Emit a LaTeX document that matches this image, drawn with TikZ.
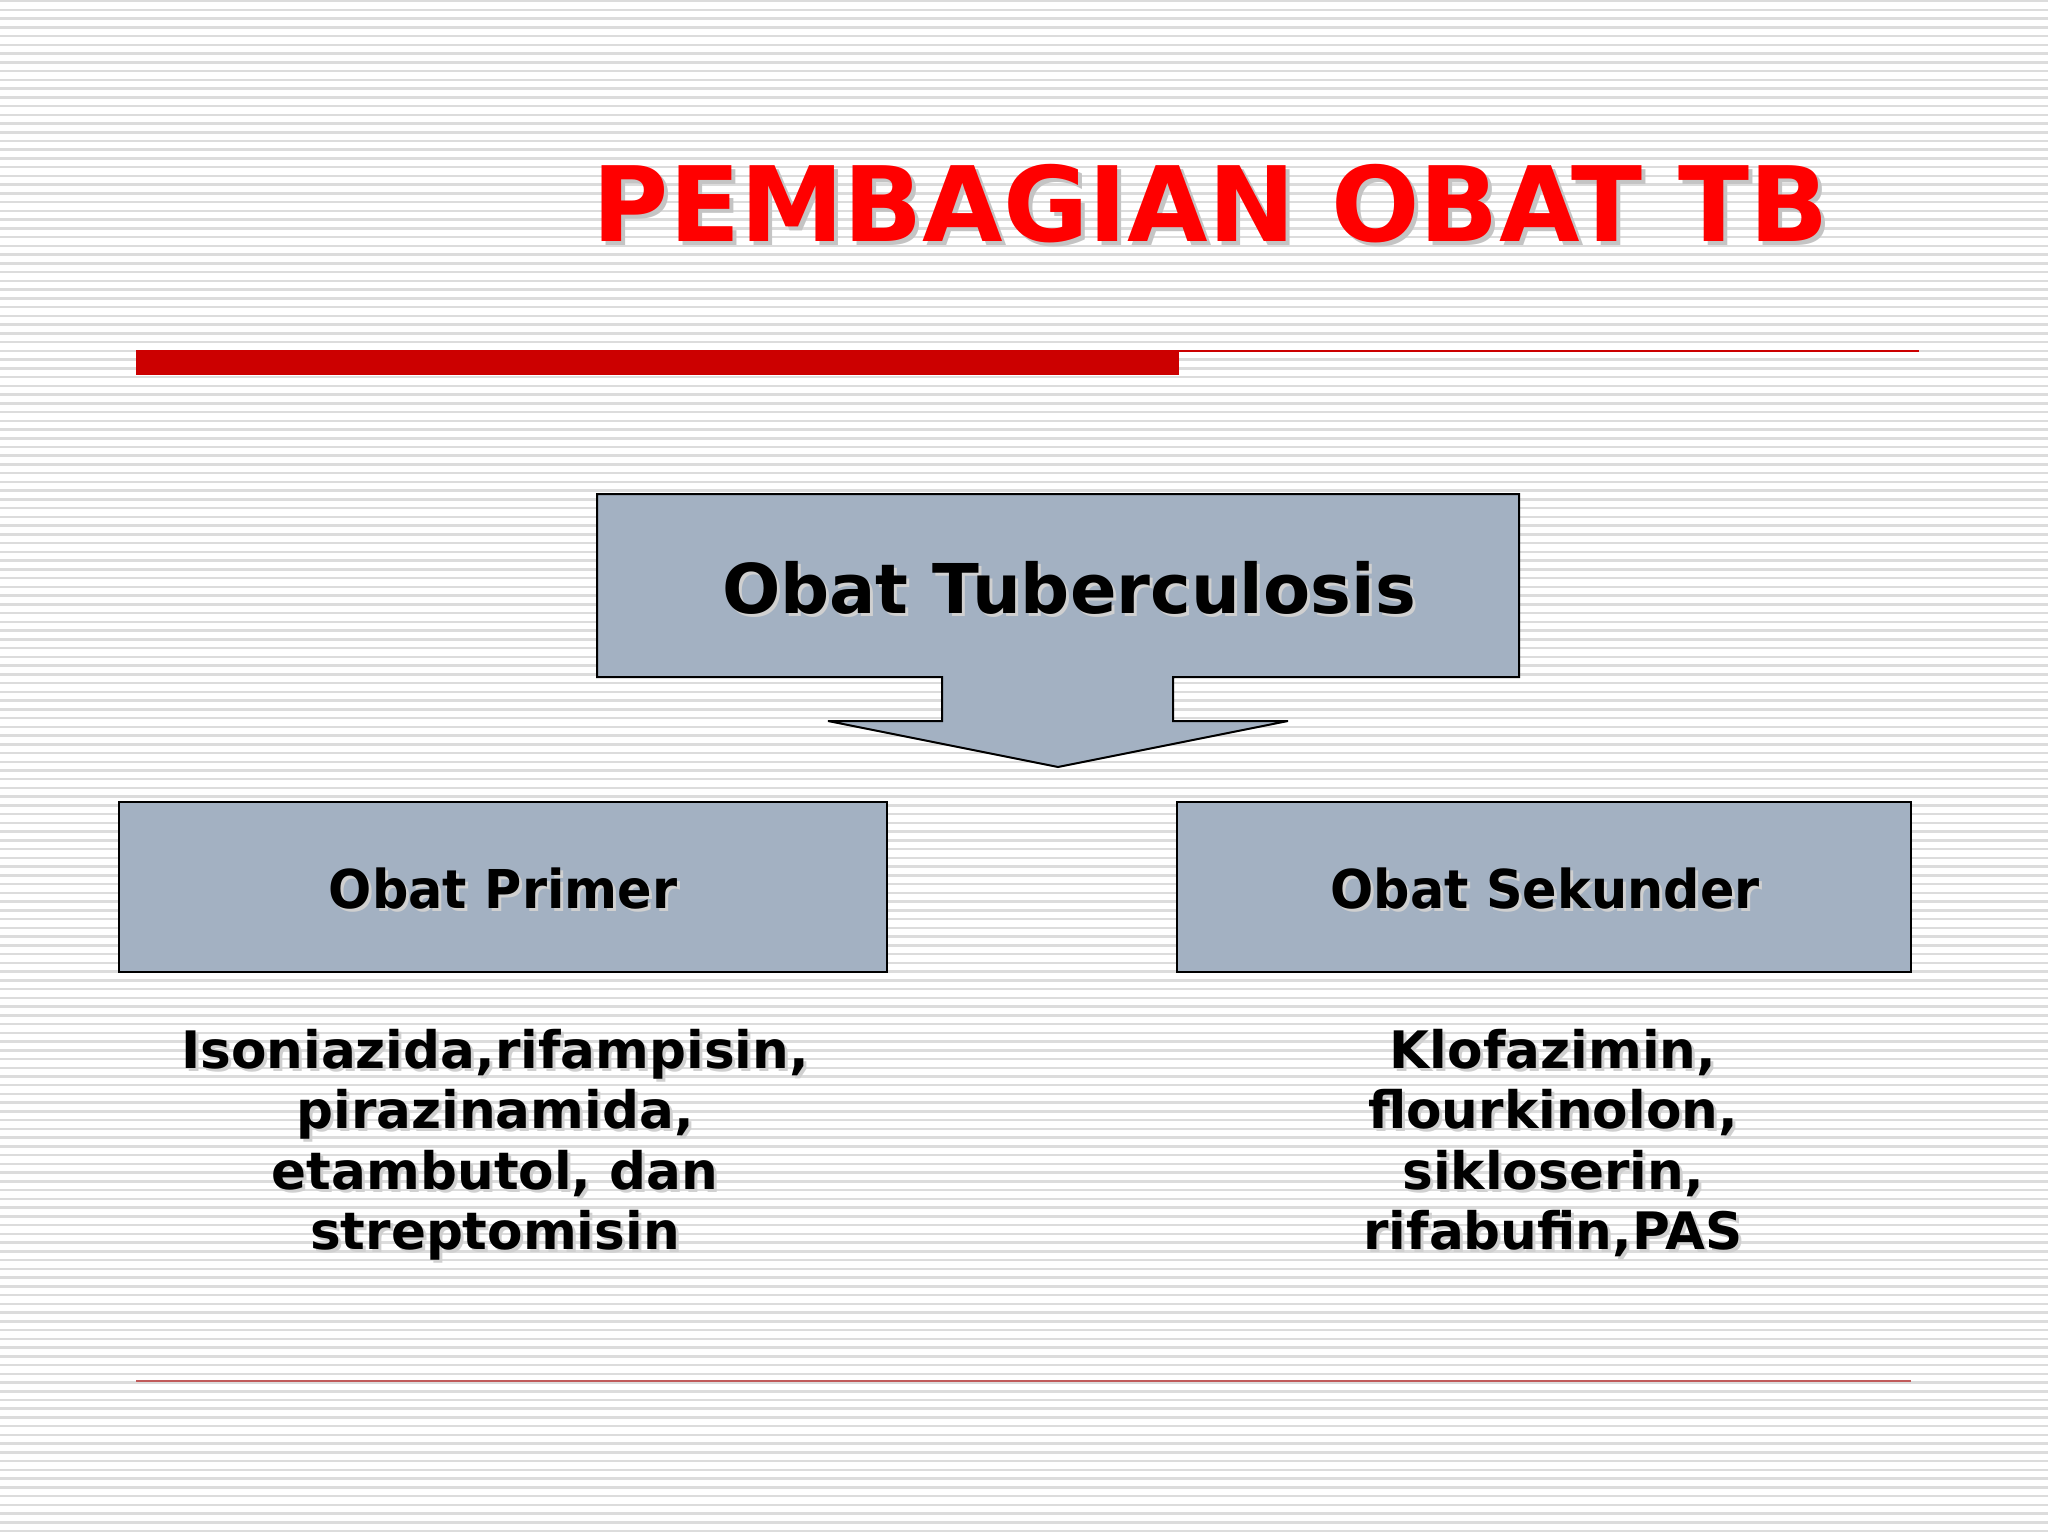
\documentclass[tikz,border=0pt]{standalone}
\usepackage{fontspec}
\setmainfont{DejaVu Sans}
\newfontfamily\narrowfont[FakeStretch=0.95]{DejaVu Sans}
\newcommand{\pxsize}[1]{\fontsize{\fpeval{#1*0.28453}pt}{\fpeval{#1*0.28453*1.2}pt}\selectfont}
\definecolor{stripegray}{HTML}{DCDCDC}
\definecolor{barred}{HTML}{CC0000}
\definecolor{titlered}{HTML}{FF0000}
\definecolor{boxfill}{HTML}{A3B1C2}
\definecolor{shadowgray}{HTML}{C4C4C4}
\definecolor{txtshadow}{HTML}{D0D0D0}
\definecolor{footline}{HTML}{C05A5A}
\tikzset{
  stripe/.style={draw=stripegray, line width=0.025cm},
  boxshape/.style={draw=black, fill=boxfill, line width=0.02cm},
  boxnode/.style={boxshape, rectangle, inner sep=0pt, minimum height=1.70cm},
  txt/.style={inner sep=0pt, anchor=base, text=black},
  txtsh/.style={inner sep=0pt, anchor=base, text=txtshadow, shift={(3,3)}},
}
\begin{document}
\begin{tikzpicture}[x=0.01cm, y=-0.01cm]
\useasboundingbox (0,0) rectangle (2048,1536);
\fill[white] (0,0) rectangle (2048,1536);
% background stripes
\foreach \k in {0,...,175}
  \draw[stripe] (0,{1.1+8.743*\k}) -- (2048,{1.1+8.743*\k});
% title
\node[inner sep=0pt, anchor=base, text=shadowgray, font=\bfseries\pxsize{104}] (titlesh) at (1215,245) {PEMBAGIAN OBAT TB};
\node[inner sep=0pt, anchor=base, text=titlered, font=\bfseries\pxsize{104}] (title) at (1211,241) {PEMBAGIAN OBAT TB};
% title rules
\fill[barred] (136,350) rectangle (1179,375);
\coordinate (ruleA) at (1179,351);
\coordinate (ruleB) at (1919,351);
\draw[barred, line width=0.02cm] (ruleA) -- (ruleB);
% top callout
\draw[boxshape] (597,494) -- (1519,494) -- (1519,677) -- (1173,677) -- (1173,721)
  -- (1288,721) -- (1058,767) -- (828,721) -- (942,721) -- (942,677) -- (597,677) -- cycle;
\node[txtsh, font=\bfseries\pxsize{68.6}] (topsh) at (1069,613) {Obat Tuberculosis};
\node[txt, font=\bfseries\pxsize{68.6}] (top) at (1069,613) {Obat Tuberculosis};
% lower boxes
\node[boxnode, minimum width=7.68cm] (primer) at (503,887) {};
\node[boxnode, minimum width=7.34cm] (sekunder) at (1544,887) {};
\node[txtsh, font=\narrowfont\bfseries\pxsize{53.5}] (primertxtsh) at (503,908) {Obat Primer};
\node[txt, font=\narrowfont\bfseries\pxsize{53.5}] (primertxt) at (503,908) {Obat Primer};
\node[txtsh, font=\narrowfont\bfseries\pxsize{53.5}] (sekundertxtsh) at (1545,908) {Obat Sekunder};
\node[txt, font=\narrowfont\bfseries\pxsize{53.5}] (sekundertxt) at (1545,908) {Obat Sekunder};
% lists
\foreach \t [count=\i] in {{Isoniazida,rifampisin,},{pirazinamida,},{etambutol, dan},{streptomisin}} {
  \node[txtsh, font=\bfseries\pxsize{51.6}] (lsh\i) at (495,{1068+60.5*(\i-1)}) {\t};
  \node[txt, font=\bfseries\pxsize{51.6}] (l\i) at (495,{1068+60.5*(\i-1)}) {\t};
}
\foreach \t [count=\i] in {{Klofazimin,},{flourkinolon,},{sikloserin,},{rifabufin,PAS}} {
  \node[txtsh, font=\bfseries\pxsize{51.6}] (rsh\i) at (1553,{1068+60.5*(\i-1)}) {\t};
  \node[txt, font=\bfseries\pxsize{51.6}] (r\i) at (1553,{1068+60.5*(\i-1)}) {\t};
}
% footer rule
\coordinate (footA) at (136,1381);
\coordinate (footB) at (1911,1381);
\draw[footline, line width=0.015cm] (footA) -- (footB);
\end{tikzpicture}
\end{document}
